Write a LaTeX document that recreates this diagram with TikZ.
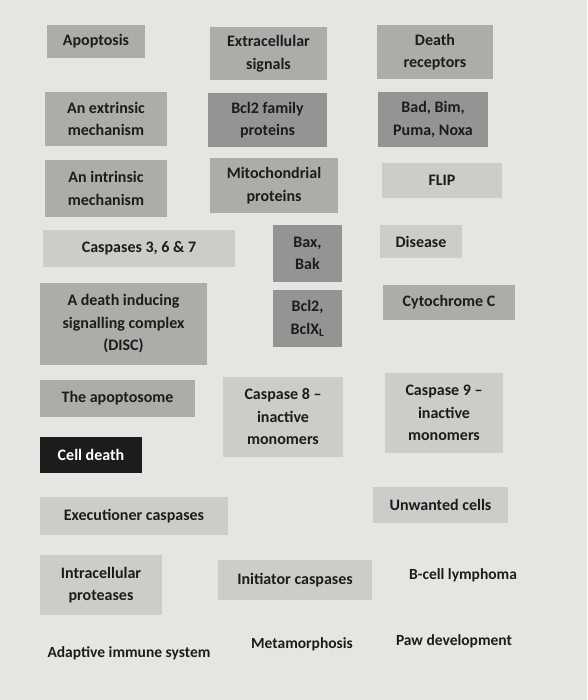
\documentclass[tikz,border=0pt]{standalone}
\usepackage{fontspec}
\setmainfont{Carlito}
\definecolor{paper}{RGB}{229,229,226}
\definecolor{medfill}{RGB}{172,172,169}
\definecolor{darkfill}{RGB}{148,148,146}
\definecolor{lightfill}{RGB}{204,204,201}
\definecolor{ink}{RGB}{28,28,28}
\tikzset{
  card/.style={rectangle, inner sep=0pt, align=center, text=ink,
    font=\bfseries\fontsize{16}{22.5}\selectfont},
  medcard/.style={card, fill=medfill},
  darkcard/.style={card, fill=darkfill},
  lightcard/.style={card, fill=lightfill},
  blackcard/.style={card, fill=ink, text=white},
  plain/.style={inner sep=0pt, text=ink, font=\bfseries\fontsize{15.5}{21}\selectfont},
}
\begin{document}
\begin{tikzpicture}[x=1pt,y=-1pt]
\fill[paper] (0,0) rectangle (587,700);
\useasboundingbox (0,0) rectangle (587,700);
% row 1
\node[medcard, minimum width=98, minimum height=33] (apop) at (96,41.5) {Apoptosis};
\node[medcard, minimum width=117, minimum height=53] (extra) at (268.5,53.5) {Extracellular\\signals};
\node[medcard, minimum width=116, minimum height=54] (death) at (435,52) {Death\\receptors};
% row 2
\node[medcard, minimum width=122, minimum height=54] (extr) at (106,119) {An extrinsic\\mechanism};
\node[darkcard, minimum width=119, minimum height=54] (bclfam) at (267.5,120) {Bcl2 family\\proteins};
\node[darkcard, minimum width=110, minimum height=55] (bad) at (433,119.5) {Bad, Bim,\\Puma, Noxa};
% row 3
\node[medcard, minimum width=122, minimum height=57] (intr) at (106,188.5) {An intrinsic\\mechanism};
\node[medcard, minimum width=128, minimum height=55] (mito) at (274,185.5) {Mitochondrial\\proteins};
\node[lightcard, minimum width=120, minimum height=35] (flip) at (442,180.5) {FLIP};
% row 4
\node[lightcard, minimum width=192, minimum height=37] (casp) at (139,248.5) {Caspases 3, 6 \& 7};
\node[darkcard, minimum width=69, minimum height=57] (bax) at (307.5,253.5) {Bax,\\Bak};
\node[lightcard, minimum width=82, minimum height=33] (dis) at (421,241.5) {Disease};
% row 5
\node[medcard, minimum width=167, minimum height=82] (disc) at (123.5,324) {A death inducing\\signalling complex\\(DISC)};
\node[darkcard, minimum width=69, minimum height=57] (bcl) at (307.5,318.5) {Bcl2,\\BclX\textsubscript{L}};
\node[medcard, minimum width=132, minimum height=35] (cytc) at (449,302.5) {Cytochrome C};
% row 6
\node[medcard, minimum width=155, minimum height=37] (apopt) at (117.5,398.5) {The apoptosome};
\node[lightcard, minimum width=120, minimum height=80] (c8) at (283,417) {Caspase 8 --\\inactive\\monomers};
\node[lightcard, minimum width=118, minimum height=80] (c9) at (444,413) {Caspase 9 --\\inactive\\monomers};
\node[blackcard, minimum width=102, minimum height=36] (celld) at (91,455) {Cell death};
% row 7
\node[lightcard, minimum width=188, minimum height=38] (exec) at (134,516) {Executioner caspases};
\node[lightcard, minimum width=135, minimum height=36] (unw) at (440.5,505) {Unwanted cells};
% row 8
\node[lightcard, minimum width=122, minimum height=60] (intra) at (101,585) {Intracellular\\proteases};
\node[lightcard, minimum width=154, minimum height=40] (init) at (295,580) {Initiator caspases};
\node[plain] (bcell) at (463,575) {B-cell lymphoma};
% row 9
\node[plain] (adapt) at (129,653) {Adaptive immune system};
\node[plain] (meta) at (302,644) {Metamorphosis};
\node[plain] (paw) at (454,641) {Paw development};
\end{tikzpicture}
\end{document}
